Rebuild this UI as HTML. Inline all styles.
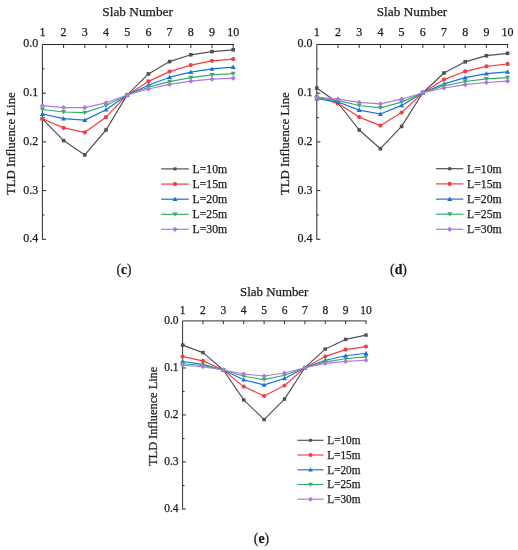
<!DOCTYPE html>
<html><head><meta charset="utf-8"><title>TLD Influence Line</title>
<style>
html,body{margin:0;padding:0;background:#fff;}
body{width:518px;height:550px;overflow:hidden;}
text{stroke:#1c1c1c;stroke-width:0.25px;}
svg{display:block;font-family:'Liberation Serif', 'DejaVu Serif', serif;fill:#1c1c1c;}
</style></head><body>
<svg width="518" height="550" viewBox="0 0 518 550">
<rect width="518" height="550" fill="#ffffff"/>
<path d="M42.40,239.80 V44.50 H233.70" fill="none" stroke="#2a2a2a" stroke-width="1.00"/>
<path d="M63.60,44.50 v3.40 M84.80,44.50 v3.40 M106.00,44.50 v3.40 M127.20,44.50 v3.40 M148.40,44.50 v3.40 M169.60,44.50 v3.40 M190.80,44.50 v3.40 M212.00,44.50 v3.40 M233.20,44.50 v3.40 M42.40,68.85 h2.00 M42.40,93.20 h3.60 M42.40,117.55 h2.00 M42.40,141.90 h3.60 M42.40,166.25 h2.00 M42.40,190.60 h3.60 M42.40,214.95 h2.00 M42.40,239.30 h3.60 " fill="none" stroke="#2a2a2a" stroke-width="1.00"/>
<text x="42.40" y="35.70" font-size="12" text-anchor="middle">1</text>
<text x="63.60" y="35.70" font-size="12" text-anchor="middle">2</text>
<text x="84.80" y="35.70" font-size="12" text-anchor="middle">3</text>
<text x="106.00" y="35.70" font-size="12" text-anchor="middle">4</text>
<text x="127.20" y="35.70" font-size="12" text-anchor="middle">5</text>
<text x="148.40" y="35.70" font-size="12" text-anchor="middle">6</text>
<text x="169.60" y="35.70" font-size="12" text-anchor="middle">7</text>
<text x="190.80" y="35.70" font-size="12" text-anchor="middle">8</text>
<text x="212.00" y="35.70" font-size="12" text-anchor="middle">9</text>
<text x="233.20" y="35.70" font-size="12" text-anchor="middle">10</text>
<text x="38.20" y="47.40" font-size="12" text-anchor="end">0.0</text>
<text x="38.20" y="96.10" font-size="12" text-anchor="end">0.1</text>
<text x="38.20" y="144.80" font-size="12" text-anchor="end">0.2</text>
<text x="38.20" y="193.50" font-size="12" text-anchor="end">0.3</text>
<text x="38.20" y="242.20" font-size="12" text-anchor="end">0.4</text>
<text x="137.60" y="15.80" font-size="13.30" text-anchor="middle" textLength="70.60" lengthAdjust="spacingAndGlyphs">Slab Number</text>
<text transform="translate(14.70,143.70) rotate(-90)" font-size="13.00" text-anchor="middle" textLength="102.80" lengthAdjust="spacingAndGlyphs">TLD Influence Line</text>
<polyline points="42.40,118.80 63.60,140.60 84.80,154.90 106.00,130.00 127.20,94.90 148.40,73.90 169.60,61.60 190.80,54.80 212.00,51.60 233.20,49.80" fill="none" stroke="#515151" stroke-width="1.20" stroke-linejoin="round"/>
<rect x="40.60" y="117.00" width="3.60" height="3.60" fill="#515151"/>
<rect x="61.80" y="138.80" width="3.60" height="3.60" fill="#515151"/>
<rect x="83.00" y="153.10" width="3.60" height="3.60" fill="#515151"/>
<rect x="104.20" y="128.20" width="3.60" height="3.60" fill="#515151"/>
<rect x="125.40" y="93.10" width="3.60" height="3.60" fill="#515151"/>
<rect x="146.60" y="72.10" width="3.60" height="3.60" fill="#515151"/>
<rect x="167.80" y="59.80" width="3.60" height="3.60" fill="#515151"/>
<rect x="189.00" y="53.00" width="3.60" height="3.60" fill="#515151"/>
<rect x="210.20" y="49.80" width="3.60" height="3.60" fill="#515151"/>
<rect x="231.40" y="48.00" width="3.60" height="3.60" fill="#515151"/>
<polyline points="42.40,118.80 63.60,127.90 84.80,132.30 106.00,117.20 127.20,94.90 148.40,81.40 169.60,71.60 190.80,65.10 212.00,60.80 233.20,59.10" fill="none" stroke="#F14040" stroke-width="1.20" stroke-linejoin="round"/>
<circle cx="42.40" cy="118.80" r="2.15" fill="#F14040"/>
<circle cx="63.60" cy="127.90" r="2.15" fill="#F14040"/>
<circle cx="84.80" cy="132.30" r="2.15" fill="#F14040"/>
<circle cx="106.00" cy="117.20" r="2.15" fill="#F14040"/>
<circle cx="127.20" cy="94.90" r="2.15" fill="#F14040"/>
<circle cx="148.40" cy="81.40" r="2.15" fill="#F14040"/>
<circle cx="169.60" cy="71.60" r="2.15" fill="#F14040"/>
<circle cx="190.80" cy="65.10" r="2.15" fill="#F14040"/>
<circle cx="212.00" cy="60.80" r="2.15" fill="#F14040"/>
<circle cx="233.20" cy="59.10" r="2.15" fill="#F14040"/>
<polyline points="42.40,114.00 63.60,118.60 84.80,120.10 106.00,109.70 127.20,95.00 148.40,85.20 169.60,77.20 190.80,72.10 212.00,68.90 233.20,67.10" fill="none" stroke="#1A6FDF" stroke-width="1.20" stroke-linejoin="round"/>
<polygon points="42.40,111.50 44.90,115.88 39.90,115.88" fill="#1A6FDF"/>
<polygon points="63.60,116.10 66.10,120.47 61.10,120.47" fill="#1A6FDF"/>
<polygon points="84.80,117.60 87.30,121.97 82.30,121.97" fill="#1A6FDF"/>
<polygon points="106.00,107.20 108.50,111.58 103.50,111.58" fill="#1A6FDF"/>
<polygon points="127.20,92.50 129.70,96.88 124.70,96.88" fill="#1A6FDF"/>
<polygon points="148.40,82.70 150.90,87.08 145.90,87.08" fill="#1A6FDF"/>
<polygon points="169.60,74.70 172.10,79.08 167.10,79.08" fill="#1A6FDF"/>
<polygon points="190.80,69.60 193.30,73.97 188.30,73.97" fill="#1A6FDF"/>
<polygon points="212.00,66.40 214.50,70.78 209.50,70.78" fill="#1A6FDF"/>
<polygon points="233.20,64.60 235.70,68.97 230.70,68.97" fill="#1A6FDF"/>
<polyline points="42.40,109.50 63.60,112.00 84.80,112.60 106.00,105.50 127.20,95.00 148.40,87.20 169.60,81.70 190.80,77.70 212.00,74.90 233.20,73.60" fill="none" stroke="#37AD6B" stroke-width="1.20" stroke-linejoin="round"/>
<polygon points="42.40,112.00 44.90,107.62 39.90,107.62" fill="#37AD6B"/>
<polygon points="63.60,114.50 66.10,110.12 61.10,110.12" fill="#37AD6B"/>
<polygon points="84.80,115.10 87.30,110.72 82.30,110.72" fill="#37AD6B"/>
<polygon points="106.00,108.00 108.50,103.62 103.50,103.62" fill="#37AD6B"/>
<polygon points="127.20,97.50 129.70,93.12 124.70,93.12" fill="#37AD6B"/>
<polygon points="148.40,89.70 150.90,85.33 145.90,85.33" fill="#37AD6B"/>
<polygon points="169.60,84.20 172.10,79.83 167.10,79.83" fill="#37AD6B"/>
<polygon points="190.80,80.20 193.30,75.83 188.30,75.83" fill="#37AD6B"/>
<polygon points="212.00,77.40 214.50,73.03 209.50,73.03" fill="#37AD6B"/>
<polygon points="233.20,76.10 235.70,71.72 230.70,71.72" fill="#37AD6B"/>
<polyline points="42.40,105.70 63.60,107.60 84.80,107.60 106.00,102.80 127.20,95.00 148.40,89.00 169.60,84.40 190.80,81.20 212.00,79.20 233.20,78.20" fill="none" stroke="#B177DE" stroke-width="1.20" stroke-linejoin="round"/>
<polygon points="42.40,103.10 45.00,105.70 42.40,108.30 39.80,105.70" fill="#B177DE"/>
<polygon points="63.60,105.00 66.20,107.60 63.60,110.20 61.00,107.60" fill="#B177DE"/>
<polygon points="84.80,105.00 87.40,107.60 84.80,110.20 82.20,107.60" fill="#B177DE"/>
<polygon points="106.00,100.20 108.60,102.80 106.00,105.40 103.40,102.80" fill="#B177DE"/>
<polygon points="127.20,92.40 129.80,95.00 127.20,97.60 124.60,95.00" fill="#B177DE"/>
<polygon points="148.40,86.40 151.00,89.00 148.40,91.60 145.80,89.00" fill="#B177DE"/>
<polygon points="169.60,81.80 172.20,84.40 169.60,87.00 167.00,84.40" fill="#B177DE"/>
<polygon points="190.80,78.60 193.40,81.20 190.80,83.80 188.20,81.20" fill="#B177DE"/>
<polygon points="212.00,76.60 214.60,79.20 212.00,81.80 209.40,79.20" fill="#B177DE"/>
<polygon points="233.20,75.60 235.80,78.20 233.20,80.80 230.60,78.20" fill="#B177DE"/>
<line x1="161.20" y1="168.90" x2="188.80" y2="168.90" stroke="#515151" stroke-width="1.20"/>
<rect x="173.47" y="167.37" width="3.06" height="3.06" fill="#515151"/>
<text x="192.50" y="172.90" font-size="12" textLength="34.70" lengthAdjust="spacingAndGlyphs">L=10m</text>
<line x1="161.20" y1="184.10" x2="188.80" y2="184.10" stroke="#F14040" stroke-width="1.20"/>
<circle cx="175.00" cy="184.10" r="2.15" fill="#F14040"/>
<text x="192.50" y="188.10" font-size="12" textLength="34.70" lengthAdjust="spacingAndGlyphs">L=15m</text>
<line x1="161.20" y1="199.20" x2="188.80" y2="199.20" stroke="#1A6FDF" stroke-width="1.20"/>
<polygon points="175.00,196.70 177.50,201.07 172.50,201.07" fill="#1A6FDF"/>
<text x="192.50" y="203.20" font-size="12" textLength="34.70" lengthAdjust="spacingAndGlyphs">L=20m</text>
<line x1="161.20" y1="214.30" x2="188.80" y2="214.30" stroke="#37AD6B" stroke-width="1.20"/>
<polygon points="175.00,216.80 177.50,212.43 172.50,212.43" fill="#37AD6B"/>
<text x="192.50" y="218.30" font-size="12" textLength="34.70" lengthAdjust="spacingAndGlyphs">L=25m</text>
<line x1="161.20" y1="229.30" x2="188.80" y2="229.30" stroke="#B177DE" stroke-width="1.20"/>
<polygon points="175.00,226.70 177.60,229.30 175.00,231.90 172.40,229.30" fill="#B177DE"/>
<text x="192.50" y="233.30" font-size="12" textLength="34.70" lengthAdjust="spacingAndGlyphs">L=30m</text>
<text x="124.10" y="274.00" font-size="13.6" text-anchor="middle">(<tspan font-weight="bold">c</tspan>)</text>
<path d="M316.80,239.80 V44.50 H508.10" fill="none" stroke="#2a2a2a" stroke-width="1.00"/>
<path d="M338.00,44.50 v3.40 M359.20,44.50 v3.40 M380.40,44.50 v3.40 M401.60,44.50 v3.40 M422.80,44.50 v3.40 M444.00,44.50 v3.40 M465.20,44.50 v3.40 M486.40,44.50 v3.40 M507.60,44.50 v3.40 M316.80,68.85 h2.00 M316.80,93.20 h3.60 M316.80,117.55 h2.00 M316.80,141.90 h3.60 M316.80,166.25 h2.00 M316.80,190.60 h3.60 M316.80,214.95 h2.00 M316.80,239.30 h3.60 " fill="none" stroke="#2a2a2a" stroke-width="1.00"/>
<text x="316.80" y="35.70" font-size="12" text-anchor="middle">1</text>
<text x="338.00" y="35.70" font-size="12" text-anchor="middle">2</text>
<text x="359.20" y="35.70" font-size="12" text-anchor="middle">3</text>
<text x="380.40" y="35.70" font-size="12" text-anchor="middle">4</text>
<text x="401.60" y="35.70" font-size="12" text-anchor="middle">5</text>
<text x="422.80" y="35.70" font-size="12" text-anchor="middle">6</text>
<text x="444.00" y="35.70" font-size="12" text-anchor="middle">7</text>
<text x="465.20" y="35.70" font-size="12" text-anchor="middle">8</text>
<text x="486.40" y="35.70" font-size="12" text-anchor="middle">9</text>
<text x="507.60" y="35.70" font-size="12" text-anchor="middle">10</text>
<text x="312.60" y="47.40" font-size="12" text-anchor="end">0.0</text>
<text x="312.60" y="96.10" font-size="12" text-anchor="end">0.1</text>
<text x="312.60" y="144.80" font-size="12" text-anchor="end">0.2</text>
<text x="312.60" y="193.50" font-size="12" text-anchor="end">0.3</text>
<text x="312.60" y="242.20" font-size="12" text-anchor="end">0.4</text>
<text x="412.00" y="15.80" font-size="13.30" text-anchor="middle" textLength="70.60" lengthAdjust="spacingAndGlyphs">Slab Number</text>
<text transform="translate(289.10,143.70) rotate(-90)" font-size="13.00" text-anchor="middle" textLength="102.80" lengthAdjust="spacingAndGlyphs">TLD Influence Line</text>
<polyline points="316.80,88.10 338.00,103.00 359.20,130.00 380.40,148.70 401.60,126.40 422.80,92.70 444.00,73.00 465.20,61.80 486.40,55.70 507.60,53.30" fill="none" stroke="#515151" stroke-width="1.20" stroke-linejoin="round"/>
<rect x="315.00" y="86.30" width="3.60" height="3.60" fill="#515151"/>
<rect x="336.20" y="101.20" width="3.60" height="3.60" fill="#515151"/>
<rect x="357.40" y="128.20" width="3.60" height="3.60" fill="#515151"/>
<rect x="378.60" y="146.90" width="3.60" height="3.60" fill="#515151"/>
<rect x="399.80" y="124.60" width="3.60" height="3.60" fill="#515151"/>
<rect x="421.00" y="90.90" width="3.60" height="3.60" fill="#515151"/>
<rect x="442.20" y="71.20" width="3.60" height="3.60" fill="#515151"/>
<rect x="463.40" y="60.00" width="3.60" height="3.60" fill="#515151"/>
<rect x="484.60" y="53.90" width="3.60" height="3.60" fill="#515151"/>
<rect x="505.80" y="51.50" width="3.60" height="3.60" fill="#515151"/>
<polyline points="316.80,96.60 338.00,103.60 359.20,117.10 380.40,125.60 401.60,112.60 422.80,92.70 444.00,79.60 465.20,71.30 486.40,66.30 507.60,64.00" fill="none" stroke="#F14040" stroke-width="1.20" stroke-linejoin="round"/>
<circle cx="316.80" cy="96.60" r="2.15" fill="#F14040"/>
<circle cx="338.00" cy="103.60" r="2.15" fill="#F14040"/>
<circle cx="359.20" cy="117.10" r="2.15" fill="#F14040"/>
<circle cx="380.40" cy="125.60" r="2.15" fill="#F14040"/>
<circle cx="401.60" cy="112.60" r="2.15" fill="#F14040"/>
<circle cx="422.80" cy="92.70" r="2.15" fill="#F14040"/>
<circle cx="444.00" cy="79.60" r="2.15" fill="#F14040"/>
<circle cx="465.20" cy="71.30" r="2.15" fill="#F14040"/>
<circle cx="486.40" cy="66.30" r="2.15" fill="#F14040"/>
<circle cx="507.60" cy="64.00" r="2.15" fill="#F14040"/>
<polyline points="316.80,98.60 338.00,102.00 359.20,110.10 380.40,114.00 401.60,105.40 422.80,92.70 444.00,83.90 465.20,77.70 486.40,73.70 507.60,71.80" fill="none" stroke="#1A6FDF" stroke-width="1.20" stroke-linejoin="round"/>
<polygon points="316.80,96.10 319.30,100.47 314.30,100.47" fill="#1A6FDF"/>
<polygon points="338.00,99.50 340.50,103.88 335.50,103.88" fill="#1A6FDF"/>
<polygon points="359.20,107.60 361.70,111.97 356.70,111.97" fill="#1A6FDF"/>
<polygon points="380.40,111.50 382.90,115.88 377.90,115.88" fill="#1A6FDF"/>
<polygon points="401.60,102.90 404.10,107.28 399.10,107.28" fill="#1A6FDF"/>
<polygon points="422.80,90.20 425.30,94.58 420.30,94.58" fill="#1A6FDF"/>
<polygon points="444.00,81.40 446.50,85.78 441.50,85.78" fill="#1A6FDF"/>
<polygon points="465.20,75.20 467.70,79.58 462.70,79.58" fill="#1A6FDF"/>
<polygon points="486.40,71.20 488.90,75.58 483.90,75.58" fill="#1A6FDF"/>
<polygon points="507.60,69.30 510.10,73.67 505.10,73.67" fill="#1A6FDF"/>
<polyline points="316.80,98.20 338.00,100.70 359.20,105.50 380.40,107.80 401.60,102.10 422.80,92.70 444.00,85.80 465.20,81.50 486.40,78.90 507.60,77.70" fill="none" stroke="#37AD6B" stroke-width="1.20" stroke-linejoin="round"/>
<polygon points="316.80,100.70 319.30,96.33 314.30,96.33" fill="#37AD6B"/>
<polygon points="338.00,103.20 340.50,98.83 335.50,98.83" fill="#37AD6B"/>
<polygon points="359.20,108.00 361.70,103.62 356.70,103.62" fill="#37AD6B"/>
<polygon points="380.40,110.30 382.90,105.92 377.90,105.92" fill="#37AD6B"/>
<polygon points="401.60,104.60 404.10,100.22 399.10,100.22" fill="#37AD6B"/>
<polygon points="422.80,95.20 425.30,90.83 420.30,90.83" fill="#37AD6B"/>
<polygon points="444.00,88.30 446.50,83.92 441.50,83.92" fill="#37AD6B"/>
<polygon points="465.20,84.00 467.70,79.62 462.70,79.62" fill="#37AD6B"/>
<polygon points="486.40,81.40 488.90,77.03 483.90,77.03" fill="#37AD6B"/>
<polygon points="507.60,80.20 510.10,75.83 505.10,75.83" fill="#37AD6B"/>
<polyline points="316.80,97.20 338.00,99.10 359.20,102.40 380.40,103.80 401.60,99.20 422.80,92.70 444.00,88.00 465.20,84.60 486.40,82.50 507.60,81.10" fill="none" stroke="#B177DE" stroke-width="1.20" stroke-linejoin="round"/>
<polygon points="316.80,94.60 319.40,97.20 316.80,99.80 314.20,97.20" fill="#B177DE"/>
<polygon points="338.00,96.50 340.60,99.10 338.00,101.70 335.40,99.10" fill="#B177DE"/>
<polygon points="359.20,99.80 361.80,102.40 359.20,105.00 356.60,102.40" fill="#B177DE"/>
<polygon points="380.40,101.20 383.00,103.80 380.40,106.40 377.80,103.80" fill="#B177DE"/>
<polygon points="401.60,96.60 404.20,99.20 401.60,101.80 399.00,99.20" fill="#B177DE"/>
<polygon points="422.80,90.10 425.40,92.70 422.80,95.30 420.20,92.70" fill="#B177DE"/>
<polygon points="444.00,85.40 446.60,88.00 444.00,90.60 441.40,88.00" fill="#B177DE"/>
<polygon points="465.20,82.00 467.80,84.60 465.20,87.20 462.60,84.60" fill="#B177DE"/>
<polygon points="486.40,79.90 489.00,82.50 486.40,85.10 483.80,82.50" fill="#B177DE"/>
<polygon points="507.60,78.50 510.20,81.10 507.60,83.70 505.00,81.10" fill="#B177DE"/>
<line x1="436.00" y1="168.70" x2="463.40" y2="168.70" stroke="#515151" stroke-width="1.20"/>
<rect x="448.17" y="167.17" width="3.06" height="3.06" fill="#515151"/>
<text x="467.00" y="172.70" font-size="12" textLength="34.70" lengthAdjust="spacingAndGlyphs">L=10m</text>
<line x1="436.00" y1="183.90" x2="463.40" y2="183.90" stroke="#F14040" stroke-width="1.20"/>
<circle cx="449.70" cy="183.90" r="2.15" fill="#F14040"/>
<text x="467.00" y="187.90" font-size="12" textLength="34.70" lengthAdjust="spacingAndGlyphs">L=15m</text>
<line x1="436.00" y1="199.10" x2="463.40" y2="199.10" stroke="#1A6FDF" stroke-width="1.20"/>
<polygon points="449.70,196.60 452.20,200.97 447.20,200.97" fill="#1A6FDF"/>
<text x="467.00" y="203.10" font-size="12" textLength="34.70" lengthAdjust="spacingAndGlyphs">L=20m</text>
<line x1="436.00" y1="214.20" x2="463.40" y2="214.20" stroke="#37AD6B" stroke-width="1.20"/>
<polygon points="449.70,216.70 452.20,212.32 447.20,212.32" fill="#37AD6B"/>
<text x="467.00" y="218.20" font-size="12" textLength="34.70" lengthAdjust="spacingAndGlyphs">L=25m</text>
<line x1="436.00" y1="229.30" x2="463.40" y2="229.30" stroke="#B177DE" stroke-width="1.20"/>
<polygon points="449.70,226.70 452.30,229.30 449.70,231.90 447.10,229.30" fill="#B177DE"/>
<text x="467.00" y="233.30" font-size="12" textLength="34.70" lengthAdjust="spacingAndGlyphs">L=30m</text>
<text x="398.50" y="274.10" font-size="13.8" text-anchor="middle">(<tspan font-weight="bold">d</tspan>)</text>
<path d="M182.60,509.50 V320.90 H366.50" fill="none" stroke="#2a2a2a" stroke-width="0.96"/>
<path d="M202.98,320.90 v3.27 M223.36,320.90 v3.27 M243.74,320.90 v3.27 M264.12,320.90 v3.27 M284.50,320.90 v3.27 M304.88,320.90 v3.27 M325.26,320.90 v3.27 M345.64,320.90 v3.27 M366.02,320.90 v3.27 M182.60,344.41 h1.92 M182.60,367.93 h3.46 M182.60,391.44 h1.92 M182.60,414.96 h3.46 M182.60,438.47 h1.92 M182.60,461.99 h3.46 M182.60,485.50 h1.92 M182.60,509.02 h3.46 " fill="none" stroke="#2a2a2a" stroke-width="0.96"/>
<text x="182.60" y="313.70" font-size="11.5" text-anchor="middle">1</text>
<text x="202.98" y="313.70" font-size="11.5" text-anchor="middle">2</text>
<text x="223.36" y="313.70" font-size="11.5" text-anchor="middle">3</text>
<text x="243.74" y="313.70" font-size="11.5" text-anchor="middle">4</text>
<text x="264.12" y="313.70" font-size="11.5" text-anchor="middle">5</text>
<text x="284.50" y="313.70" font-size="11.5" text-anchor="middle">6</text>
<text x="304.88" y="313.70" font-size="11.5" text-anchor="middle">7</text>
<text x="325.26" y="313.70" font-size="11.5" text-anchor="middle">8</text>
<text x="345.64" y="313.70" font-size="11.5" text-anchor="middle">9</text>
<text x="366.02" y="313.70" font-size="11.5" text-anchor="middle">10</text>
<text x="178.56" y="323.69" font-size="11.5" text-anchor="end">0.0</text>
<text x="178.56" y="370.72" font-size="11.5" text-anchor="end">0.1</text>
<text x="178.56" y="417.75" font-size="11.5" text-anchor="end">0.2</text>
<text x="178.56" y="464.78" font-size="11.5" text-anchor="end">0.3</text>
<text x="178.56" y="511.81" font-size="11.5" text-anchor="end">0.4</text>
<text x="274.20" y="295.80" font-size="12.79" text-anchor="middle" textLength="68.30" lengthAdjust="spacingAndGlyphs">Slab Number</text>
<text transform="translate(156.50,416.35) rotate(-90)" font-size="12.51" text-anchor="middle" textLength="99.10" lengthAdjust="spacingAndGlyphs">TLD Influence Line</text>
<polyline points="182.60,345.10 202.98,352.60 223.36,370.00 243.74,399.90 264.12,419.60 284.50,399.10 304.88,367.70 325.26,349.10 345.64,339.40 366.02,335.10" fill="none" stroke="#515151" stroke-width="1.15" stroke-linejoin="round"/>
<rect x="180.87" y="343.37" width="3.46" height="3.46" fill="#515151"/>
<rect x="201.25" y="350.87" width="3.46" height="3.46" fill="#515151"/>
<rect x="221.63" y="368.27" width="3.46" height="3.46" fill="#515151"/>
<rect x="242.01" y="398.17" width="3.46" height="3.46" fill="#515151"/>
<rect x="262.39" y="417.87" width="3.46" height="3.46" fill="#515151"/>
<rect x="282.77" y="397.37" width="3.46" height="3.46" fill="#515151"/>
<rect x="303.15" y="365.97" width="3.46" height="3.46" fill="#515151"/>
<rect x="323.53" y="347.37" width="3.46" height="3.46" fill="#515151"/>
<rect x="343.91" y="337.67" width="3.46" height="3.46" fill="#515151"/>
<rect x="364.29" y="333.37" width="3.46" height="3.46" fill="#515151"/>
<polyline points="182.60,356.60 202.98,360.90 223.36,370.00 243.74,386.60 264.12,396.00 284.50,385.50 304.88,367.70 325.26,356.40 345.64,349.60 366.02,346.60" fill="none" stroke="#F14040" stroke-width="1.15" stroke-linejoin="round"/>
<circle cx="182.60" cy="356.60" r="2.07" fill="#F14040"/>
<circle cx="202.98" cy="360.90" r="2.07" fill="#F14040"/>
<circle cx="223.36" cy="370.00" r="2.07" fill="#F14040"/>
<circle cx="243.74" cy="386.60" r="2.07" fill="#F14040"/>
<circle cx="264.12" cy="396.00" r="2.07" fill="#F14040"/>
<circle cx="284.50" cy="385.50" r="2.07" fill="#F14040"/>
<circle cx="304.88" cy="367.70" r="2.07" fill="#F14040"/>
<circle cx="325.26" cy="356.40" r="2.07" fill="#F14040"/>
<circle cx="345.64" cy="349.60" r="2.07" fill="#F14040"/>
<circle cx="366.02" cy="346.60" r="2.07" fill="#F14040"/>
<polyline points="182.60,361.50 202.98,364.40 223.36,370.00 243.74,379.80 264.12,384.90 284.50,378.50 304.88,367.70 325.26,360.20 345.64,355.70 366.02,353.20" fill="none" stroke="#1A6FDF" stroke-width="1.15" stroke-linejoin="round"/>
<polygon points="182.60,359.10 185.00,363.30 180.19,363.30" fill="#1A6FDF"/>
<polygon points="202.98,362.00 205.38,366.20 200.57,366.20" fill="#1A6FDF"/>
<polygon points="223.36,367.60 225.76,371.80 220.95,371.80" fill="#1A6FDF"/>
<polygon points="243.74,377.40 246.15,381.60 241.34,381.60" fill="#1A6FDF"/>
<polygon points="264.12,382.50 266.52,386.70 261.72,386.70" fill="#1A6FDF"/>
<polygon points="284.50,376.10 286.90,380.30 282.10,380.30" fill="#1A6FDF"/>
<polygon points="304.88,365.30 307.28,369.50 302.48,369.50" fill="#1A6FDF"/>
<polygon points="325.26,357.80 327.66,362.00 322.86,362.00" fill="#1A6FDF"/>
<polygon points="345.64,353.30 348.04,357.50 343.24,357.50" fill="#1A6FDF"/>
<polygon points="366.02,350.80 368.42,355.00 363.62,355.00" fill="#1A6FDF"/>
<polyline points="182.60,363.80 202.98,365.50 223.36,370.00 243.74,376.30 264.12,379.60 284.50,375.30 304.88,367.70 325.26,361.90 345.64,358.70 366.02,356.90" fill="none" stroke="#37AD6B" stroke-width="1.15" stroke-linejoin="round"/>
<polygon points="182.60,366.20 185.00,362.00 180.19,362.00" fill="#37AD6B"/>
<polygon points="202.98,367.90 205.38,363.70 200.57,363.70" fill="#37AD6B"/>
<polygon points="223.36,372.40 225.76,368.20 220.95,368.20" fill="#37AD6B"/>
<polygon points="243.74,378.70 246.15,374.50 241.34,374.50" fill="#37AD6B"/>
<polygon points="264.12,382.00 266.52,377.80 261.72,377.80" fill="#37AD6B"/>
<polygon points="284.50,377.70 286.90,373.50 282.10,373.50" fill="#37AD6B"/>
<polygon points="304.88,370.10 307.28,365.90 302.48,365.90" fill="#37AD6B"/>
<polygon points="325.26,364.30 327.66,360.10 322.86,360.10" fill="#37AD6B"/>
<polygon points="345.64,361.10 348.04,356.90 343.24,356.90" fill="#37AD6B"/>
<polygon points="366.02,359.30 368.42,355.10 363.62,355.10" fill="#37AD6B"/>
<polyline points="182.60,365.30 202.98,366.70 223.36,370.00 243.74,374.00 264.12,376.00 284.50,373.00 304.88,367.70 325.26,363.40 345.64,361.40 366.02,360.20" fill="none" stroke="#B177DE" stroke-width="1.15" stroke-linejoin="round"/>
<polygon points="182.60,362.80 185.10,365.30 182.60,367.80 180.10,365.30" fill="#B177DE"/>
<polygon points="202.98,364.20 205.48,366.70 202.98,369.20 200.48,366.70" fill="#B177DE"/>
<polygon points="223.36,367.50 225.86,370.00 223.36,372.50 220.86,370.00" fill="#B177DE"/>
<polygon points="243.74,371.50 246.24,374.00 243.74,376.50 241.24,374.00" fill="#B177DE"/>
<polygon points="264.12,373.50 266.62,376.00 264.12,378.50 261.62,376.00" fill="#B177DE"/>
<polygon points="284.50,370.50 287.00,373.00 284.50,375.50 282.00,373.00" fill="#B177DE"/>
<polygon points="304.88,365.20 307.38,367.70 304.88,370.20 302.38,367.70" fill="#B177DE"/>
<polygon points="325.26,360.90 327.76,363.40 325.26,365.90 322.76,363.40" fill="#B177DE"/>
<polygon points="345.64,358.90 348.14,361.40 345.64,363.90 343.14,361.40" fill="#B177DE"/>
<polygon points="366.02,357.70 368.52,360.20 366.02,362.70 363.52,360.20" fill="#B177DE"/>
<line x1="297.40" y1="440.30" x2="323.60" y2="440.30" stroke="#515151" stroke-width="1.15"/>
<rect x="309.03" y="438.83" width="2.94" height="2.94" fill="#515151"/>
<text x="327.30" y="444.15" font-size="11.5" textLength="33.20" lengthAdjust="spacingAndGlyphs">L=10m</text>
<line x1="297.40" y1="455.00" x2="323.60" y2="455.00" stroke="#F14040" stroke-width="1.15"/>
<circle cx="310.50" cy="455.00" r="2.07" fill="#F14040"/>
<text x="327.30" y="458.85" font-size="11.5" textLength="33.20" lengthAdjust="spacingAndGlyphs">L=15m</text>
<line x1="297.40" y1="469.80" x2="323.60" y2="469.80" stroke="#1A6FDF" stroke-width="1.15"/>
<polygon points="310.50,467.40 312.90,471.60 308.10,471.60" fill="#1A6FDF"/>
<text x="327.30" y="473.65" font-size="11.5" textLength="33.20" lengthAdjust="spacingAndGlyphs">L=20m</text>
<line x1="297.40" y1="484.50" x2="323.60" y2="484.50" stroke="#37AD6B" stroke-width="1.15"/>
<polygon points="310.50,486.90 312.90,482.70 308.10,482.70" fill="#37AD6B"/>
<text x="327.30" y="488.35" font-size="11.5" textLength="33.20" lengthAdjust="spacingAndGlyphs">L=25m</text>
<line x1="297.40" y1="499.20" x2="323.60" y2="499.20" stroke="#B177DE" stroke-width="1.15"/>
<polygon points="310.50,496.70 313.00,499.20 310.50,501.70 308.00,499.20" fill="#B177DE"/>
<text x="327.30" y="503.05" font-size="11.5" textLength="33.20" lengthAdjust="spacingAndGlyphs">L=30m</text>
<text x="261.50" y="542.70" font-size="13.8" text-anchor="middle">(<tspan font-weight="bold">e</tspan>)</text>
</svg>
</body></html>
